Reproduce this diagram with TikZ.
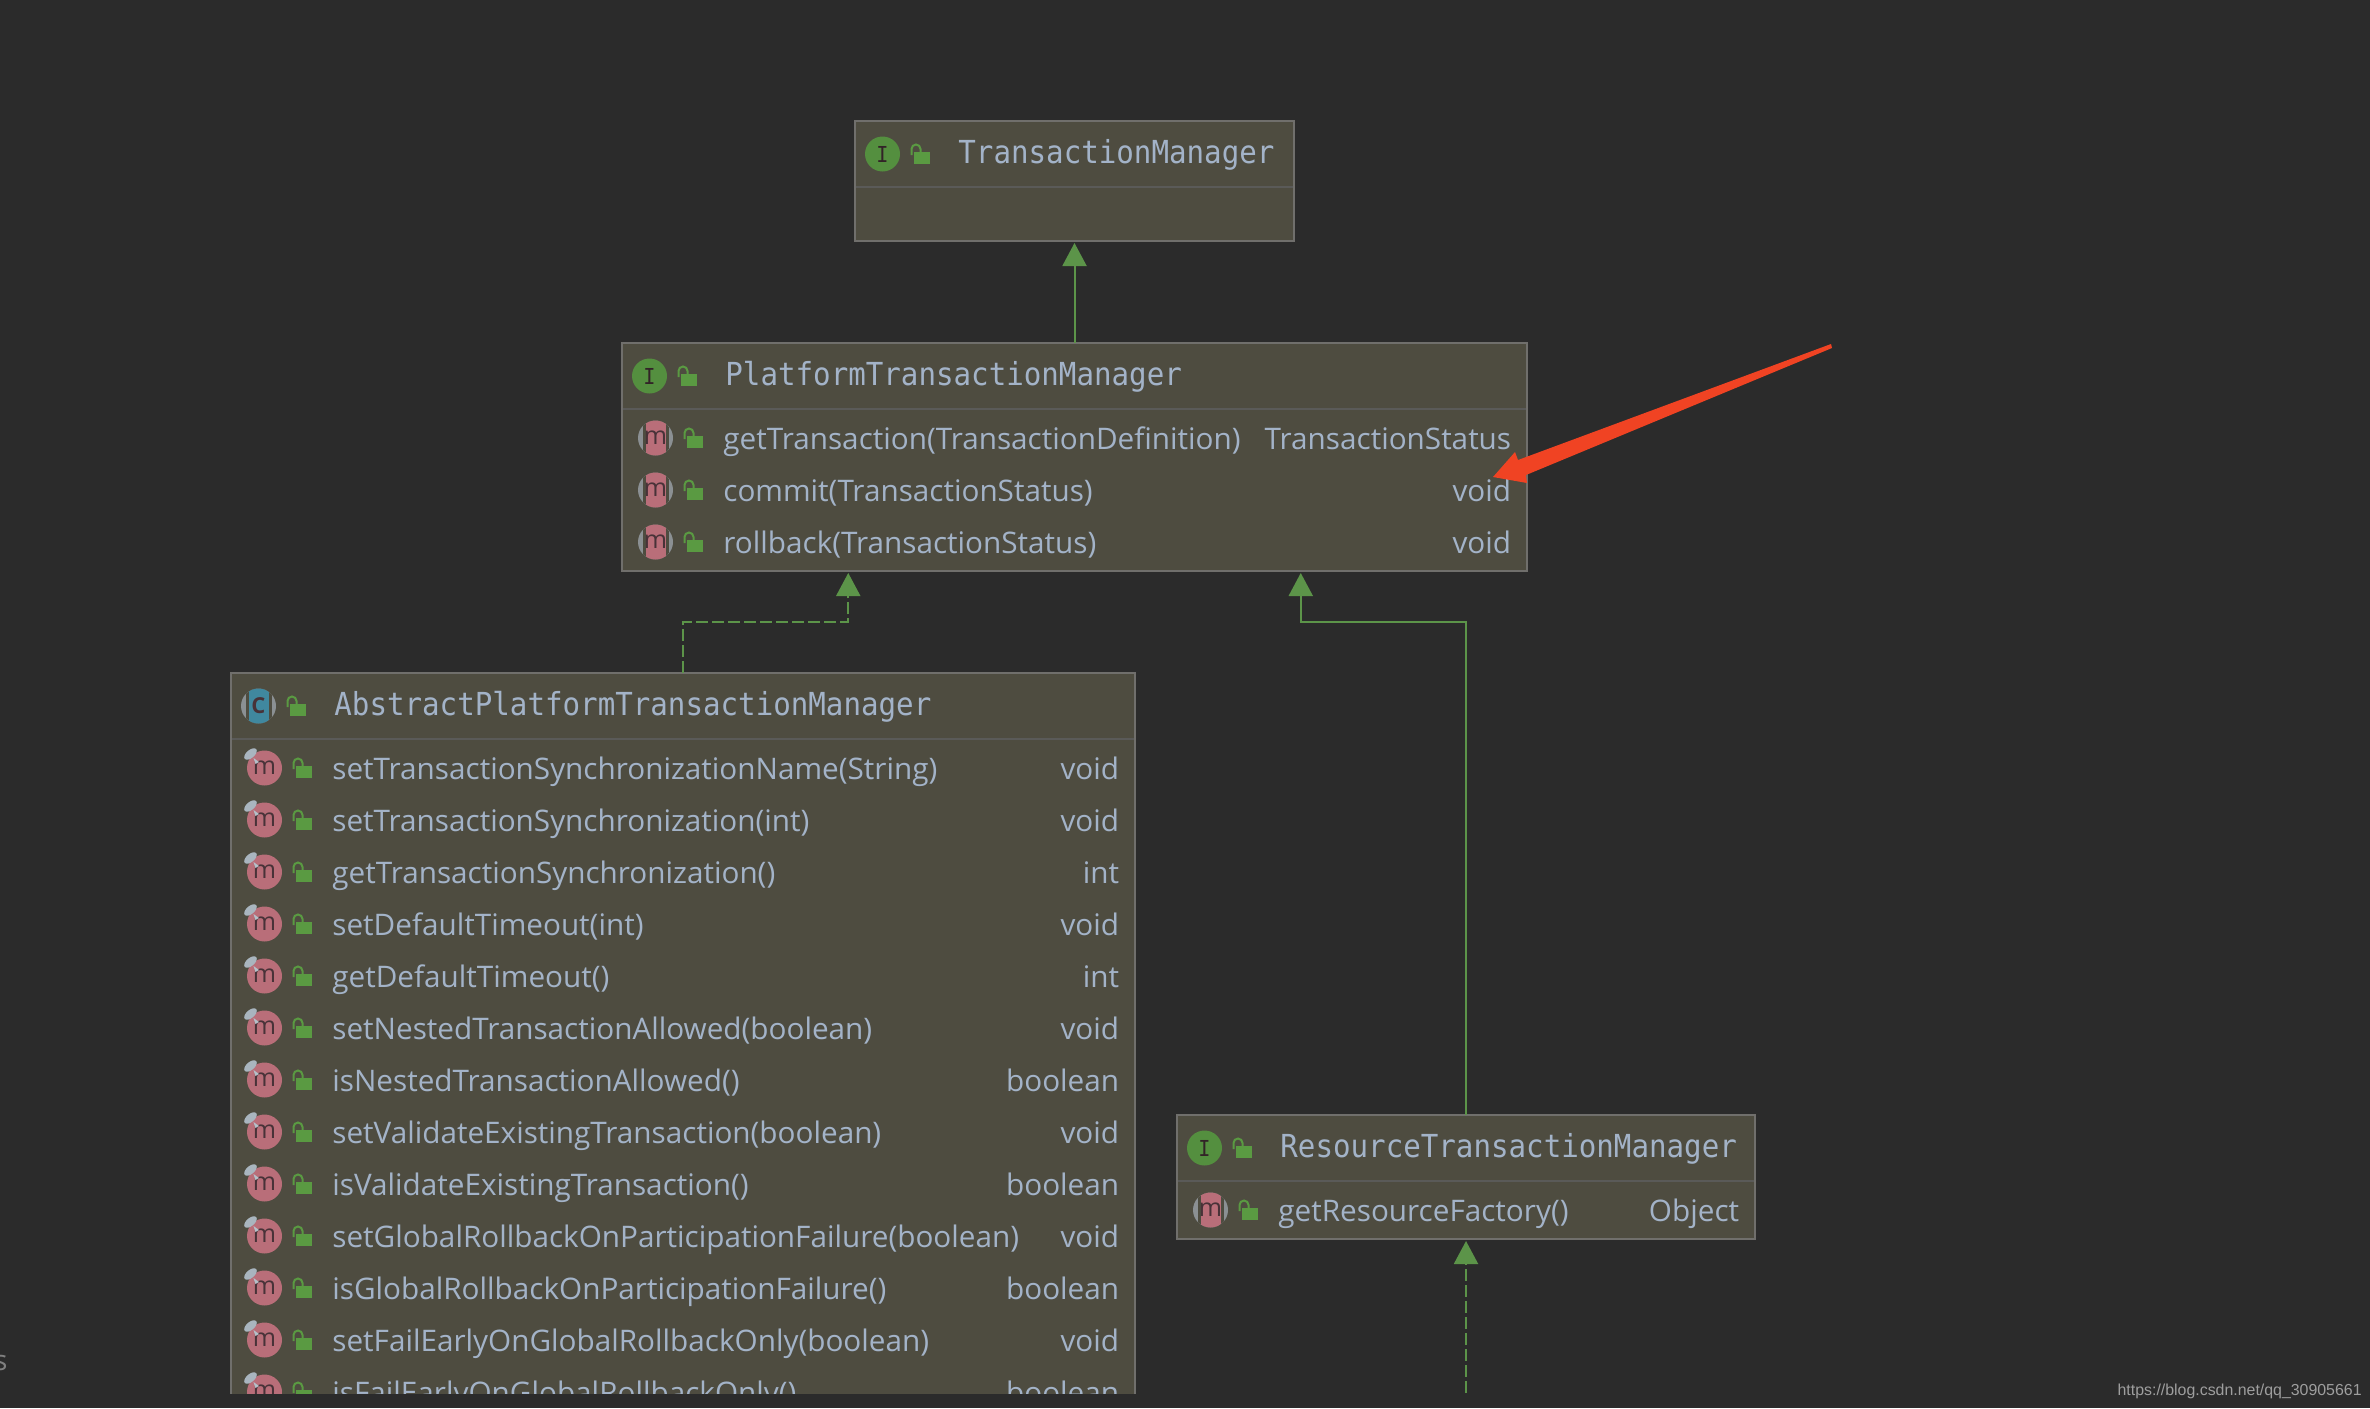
\documentclass[tikz,border=0pt]{standalone}
\usepackage{fontspec}
\setmainfont{Open Sans}
\setmonofont[FakeStretch=0.92]{DejaVu Sans Mono}
\newfontfamily\markfont{Liberation Sans}
\usetikzlibrary{arrows.meta,positioning,calc}

\definecolor{canvasgray}{HTML}{2B2B2B}
\definecolor{boxolive}{HTML}{4E4C40}
\definecolor{boxline}{HTML}{706F6C}
\definecolor{sepline}{HTML}{5A5A58}
\definecolor{labelblue}{HTML}{A3B3C8}
\definecolor{lockgreen}{HTML}{5A9A42}
\definecolor{edgegreen}{HTML}{5C9449}
\definecolor{ifacegreen}{HTML}{548F3F}
\definecolor{methodpink}{HTML}{B96E79}
\definecolor{classblue}{HTML}{40889F}
\definecolor{ringgray}{HTML}{8B9093}
\definecolor{glyphdark}{HTML}{483238}
\definecolor{tagblue}{HTML}{A9B5BF}
\definecolor{markred}{HTML}{F04323}

\tikzset{
    classbox/.style={draw=boxline, fill=boxolive, line width=1pt, rectangle, anchor=north west, outer sep=0pt, inner sep=0pt},
    headtitle/.style={anchor=base west, inner sep=0pt, text=labelblue, font=\ttfamily\fontsize{15.85}{18}\selectfont},
    sigtext/.style={anchor=base west, inner sep=0pt, text=labelblue, font=\fontsize{14.85}{18}\selectfont},
    rettext/.style={anchor=base east, inner sep=0pt, text=labelblue, font=\fontsize{14.85}{18}\selectfont},
    roundicon/.style={circle, minimum size=17.5pt, inner sep=0pt, outer sep=0pt},
    ifaceicon/.style={roundicon, fill=ifacegreen, text=glyphdark!70!black, font=\ttfamily\fontsize{11}{11}\selectfont},
    bandicon/.style={roundicon, fill=ringgray, text=glyphdark, font=\fontsize{12.5}{14}\selectfont,
        path picture={
            \fill[boxolive] ($(path picture bounding box.center)+(-13,-20)$) rectangle ($(path picture bounding box.center)+(13,20)$);
            \fill[#1] ($(path picture bounding box.center)+(-10,-20)$) rectangle ($(path picture bounding box.center)+(10,20)$);
        }},
    absicon/.style={roundicon, fill=methodpink, text=glyphdark, font=\fontsize{12.5}{14}\selectfont},
    edge/.style={edgegreen, line width=1pt, shorten >=1pt, -{Triangle[length=11.5pt,width=12pt]}},
    dashedge/.style={edge, dash pattern=on 6pt off 2pt},
    pics/lockicon/.style={code={
        \fill[lockgreen] (31,-2) rectangle (47,10);
        \draw[lockgreen, line width=1pt] (29,1) -- (29,-5) arc[start angle=180, end angle=360, radius=4.5] -- (38,-2);
    }},
    pics/pintag/.style={code={
        \fill[tagblue, shift={(-14,-14)}, rotate=40] (0,0) ellipse [x radius=7.5, y radius=4];
        \fill[tagblue!85!white] (-11,-10) -- (-5.5,-6) -- (-9,-4) -- cycle;
    }}
}

\newcommand{\classhead}[4]{
    \node[#2] (#1-head) at ($(#1.north west)+(27.5,33)$) {#3};
    \pic at (#1-head) {lockicon};
    \node[headtitle] (#1-title) at ($(#1.north west)+(103,42)$) {#4};
    \draw[sepline, line width=1pt] ($(#1.north west)+(1,66)$) -- ($(#1.north east)+(-1,66)$);
}
\newcommand{\memberrow}[5]{
    \node[#3] (#1-m#2) at ($(#1.north west)+(33.5,{43+52*#2})$) {m};
    \pic at (#1-m#2) {lockicon};
    \node[sigtext] (#1-s#2) at ($(#1.north west)+(101,{54+52*#2})$) {#4};
    \node[rettext] (#1-r#2) at ($(#1.north east)+(-15.5,{54+52*#2})$) {#5};
}

\begin{document}
\begin{tikzpicture}[x=0.5pt, y=-0.5pt]
    \clip (0,0) rectangle (2370,1408);
    \fill[canvasgray] (0,0) rectangle (2370,1408);

    \node[classbox, minimum width=219.5pt, minimum height=60pt] (manager) at (855,121) {};
    \node[classbox, anchor=north, minimum width=452.5pt, minimum height=114pt, below=51pt of manager] (platform) {};
    \node[classbox, minimum width=289pt, minimum height=62pt] (resource) at (1177,1115) {};
    \begin{scope}
        \clip (0,0) rectangle (2370,1393);
        \node[classbox, minimum width=452pt, minimum height=370pt] (abstract) at (231,673) {};
        \classhead{abstract}{bandicon=classblue}{\fontsize{11}{11}\selectfont\textbf{C}}{AbstractPlatformTransactionManager}
        \foreach \sig/\ret [count=\n] in {
            setTransactionSynchronizationName(String)/void,
            setTransactionSynchronization(int)/void,
            getTransactionSynchronization()/int,
            setDefaultTimeout(int)/void,
            getDefaultTimeout()/int,
            setNestedTransactionAllowed(boolean)/void,
            isNestedTransactionAllowed()/boolean,
            setValidateExistingTransaction(boolean)/void,
            isValidateExistingTransaction()/boolean,
            setGlobalRollbackOnParticipationFailure(boolean)/void,
            isGlobalRollbackOnParticipationFailure()/boolean,
            setFailEarlyOnGlobalRollbackOnly(boolean)/void,
            isFailEarlyOnGlobalRollbackOnly()/boolean} {
            \memberrow{abstract}{\n}{absicon}{\sig}{\ret}
            \pic at (abstract-m\n) {pintag};
        }
    \end{scope}

    \classhead{manager}{ifaceicon}{I}{TransactionManager}
    \classhead{platform}{ifaceicon}{I}{PlatformTransactionManager}
    \foreach \sig/\ret [count=\n] in {
        getTransaction(TransactionDefinition)/TransactionStatus,
        commit(TransactionStatus)/void,
        rollback(TransactionStatus)/void} {
        \memberrow{platform}{\n}{bandicon=methodpink}{\sig}{\ret}
    }
    \classhead{resource}{ifaceicon}{I}{ResourceTransactionManager}
    \memberrow{resource}{1}{bandicon=methodpink}{getResourceFactory()}{Object}

    \coordinate (dashentry) at ($(platform.south west)!0.25!(platform.south east)$);
    \coordinate (solidentry) at ($(platform.south west)!0.75!(platform.south east)$);
    \coordinate (lowerend) at (resource.south |- 0,1393);
    \draw[edge] (platform.north) -- (manager.south);
    \draw[dashedge] (abstract.north) -- ++(0,-51) -| (dashentry);
    \draw[edge] (resource.north) -- ++(0,-493) -| (solidentry);
    \draw[dashedge] (lowerend) -- (resource.south);

    \fill[markred] (1493,477) -- (1515,452) -- (1518,460) -- (1831,344) -- (1832,348) -- (1526,475) -- (1527,483) -- cycle;

    \node[anchor=base east, inner sep=0pt, text=white!50!black, font=\fontsize{14}{14}\selectfont] (cutoff) at (8,1370) {s};
    \node[anchor=base east, inner sep=0pt, text=white!62!black, font=\markfont\fontsize{7.95}{10}\selectfont] (watermark) at (2362,1395) {https://blog.csdn.net/qq\_30905661};
\end{tikzpicture}
\end{document}
